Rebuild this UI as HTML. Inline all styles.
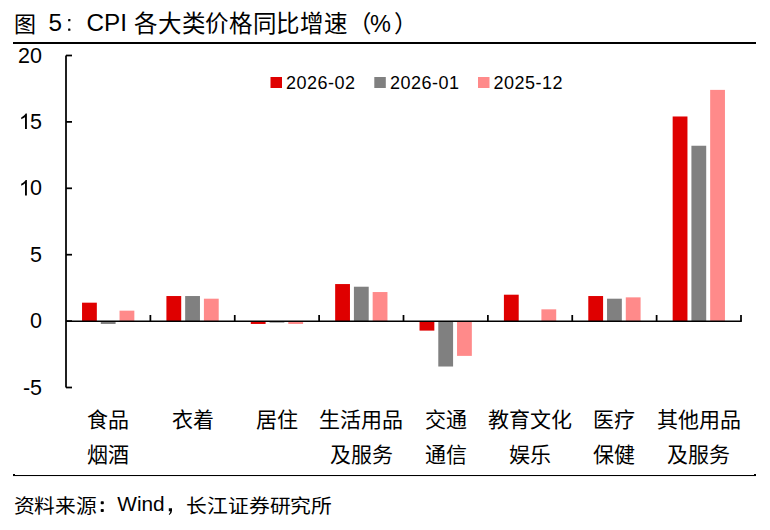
<!DOCTYPE html>
<html lang="zh-CN"><head><meta charset="utf-8"><style>
html,body{margin:0;padding:0;background:#fff;width:770px;height:530px;overflow:hidden;}
body{position:relative;font-family:"Liberation Sans",sans-serif;color:#000;}
svg{position:absolute;left:0;top:0;}
svg text{font-family:"Liberation Sans",sans-serif;}
</style></head><body>
<svg width="770" height="530" viewBox="0 0 770 530">
<g font-size="23.5">
<g>
<text x="14.2" y="32.3" font-size="22">图</text>
<text x="134.30 157.96 181.62 205.28 228.94 252.60 276.26 299.92 323.58" y="32.3">各大类价格同比增速</text><text x="347.6" y="31.9">（</text><text x="394" y="31.9">）</text>
</g>
<text x="370" y="31.5">%</text>
</g>
<g font-size="24.3">
<text x="48.5" y="31.4">5</text>
<text x="86.5" y="31.4">CPI</text>
</g>
<rect x="68.1" y="19" width="2.3" height="2.3" rx="0.4" fill="#000"/>
<rect x="68.1" y="28.5" width="2.3" height="2.3" rx="0.4" fill="#000"/>
<rect x="13" y="42" width="743" height="2" fill="#000"/>
<g>
<rect x="82.04" y="302.68" width="14.8" height="18.62" fill="#DF0000"/><rect x="100.79" y="321.30" width="14.8" height="2.66" fill="#808080"/><rect x="119.54" y="310.66" width="14.8" height="10.64" fill="#FF8A8A"/><rect x="166.41" y="296.03" width="14.8" height="25.27" fill="#DF0000"/><rect x="185.16" y="296.03" width="14.8" height="25.27" fill="#808080"/><rect x="203.91" y="298.69" width="14.8" height="22.61" fill="#FF8A8A"/><rect x="250.79" y="321.30" width="14.8" height="2.66" fill="#DF0000"/><rect x="269.54" y="321.30" width="14.8" height="1.33" fill="#808080"/><rect x="288.29" y="321.30" width="14.8" height="2.66" fill="#FF8A8A"/><rect x="335.16" y="284.06" width="14.8" height="37.24" fill="#DF0000"/><rect x="353.91" y="286.72" width="14.8" height="34.58" fill="#808080"/><rect x="372.66" y="292.04" width="14.8" height="29.26" fill="#FF8A8A"/><rect x="419.54" y="321.30" width="14.8" height="9.31" fill="#DF0000"/><rect x="438.29" y="321.30" width="14.8" height="45.22" fill="#808080"/><rect x="457.04" y="321.30" width="14.8" height="34.58" fill="#FF8A8A"/><rect x="503.91" y="294.70" width="14.8" height="26.60" fill="#DF0000"/><rect x="541.41" y="309.33" width="14.8" height="11.97" fill="#FF8A8A"/><rect x="588.29" y="296.03" width="14.8" height="25.27" fill="#DF0000"/><rect x="607.04" y="298.69" width="14.8" height="22.61" fill="#808080"/><rect x="625.79" y="297.36" width="14.8" height="23.94" fill="#FF8A8A"/><rect x="672.66" y="116.48" width="14.8" height="204.82" fill="#DF0000"/><rect x="691.41" y="145.74" width="14.8" height="175.56" fill="#808080"/><rect x="710.16" y="89.88" width="14.8" height="231.42" fill="#FF8A8A"/>
</g>
<g stroke="#000" stroke-width="1.75" fill="none">
<line x1="66" y1="55.5" x2="66" y2="387.5"/>
<line x1="66" y1="321.3" x2="741.8" y2="321.3" stroke-width="1.6"/>
<line x1="66" y1="55.50" x2="72" y2="55.50"/><line x1="66" y1="121.90" x2="72" y2="121.90"/><line x1="66" y1="188.30" x2="72" y2="188.30"/><line x1="66" y1="254.70" x2="72" y2="254.70"/><line x1="66" y1="321.10" x2="72" y2="321.10"/><line x1="66" y1="387.50" x2="72" y2="387.50"/>
<line x1="150.38" y1="315" x2="150.38" y2="321.3"/><line x1="234.75" y1="315" x2="234.75" y2="321.3"/><line x1="319.12" y1="315" x2="319.12" y2="321.3"/><line x1="403.50" y1="315" x2="403.50" y2="321.3"/><line x1="487.88" y1="315" x2="487.88" y2="321.3"/><line x1="572.25" y1="315" x2="572.25" y2="321.3"/><line x1="656.62" y1="315" x2="656.62" y2="321.3"/><line x1="741.00" y1="315" x2="741.00" y2="321.3"/>
</g>
<g font-size="21.5">
<text x="42" y="62.60" text-anchor="end">20</text><path transform="translate(18.89 129.00) scale(0.010498 -0.010498)" d="M763 0H583V1147Q518 1085 412 1023T221 930V1104Q372 1175 485 1276T645 1472H763V0Z" fill="#000"/><text x="42" y="129.00" text-anchor="end">5</text><path transform="translate(18.89 195.40) scale(0.010498 -0.010498)" d="M763 0H583V1147Q518 1085 412 1023T221 930V1104Q372 1175 485 1276T645 1472H763V0Z" fill="#000"/><text x="42" y="195.40" text-anchor="end">0</text><text x="42" y="261.80" text-anchor="end">5</text><text x="42" y="328.20" text-anchor="end">0</text><text x="42" y="394.60" text-anchor="end">-5</text>
</g>
<g font-size="21">
<text x="108.19" y="427.3" text-anchor="middle">食品</text><text x="108.19" y="462.3" text-anchor="middle">烟酒</text><text x="192.56" y="427.3" text-anchor="middle">衣着</text><text x="276.94" y="427.3" text-anchor="middle">居住</text><text x="361.31" y="427.3" text-anchor="middle">生活用品</text><text x="361.31" y="462.3" text-anchor="middle">及服务</text><text x="445.69" y="427.3" text-anchor="middle">交通</text><text x="445.69" y="462.3" text-anchor="middle">通信</text><text x="530.06" y="427.3" text-anchor="middle">教育文化</text><text x="530.06" y="462.3" text-anchor="middle">娱乐</text><text x="614.44" y="427.3" text-anchor="middle">医疗</text><text x="614.44" y="462.3" text-anchor="middle">保健</text><text x="698.81" y="427.3" text-anchor="middle">其他用品</text><text x="698.81" y="462.3" text-anchor="middle">及服务</text>
</g>
<g font-size="18" letter-spacing="0.5">
<rect x="270.5" y="77" width="11.5" height="11" fill="#DF0000"/>
<text x="286" y="88.9">2026-02</text>
<rect x="374.3" y="77" width="11.5" height="11" fill="#808080"/>
<text x="390" y="88.9">2026-01</text>
<rect x="478" y="77" width="11.5" height="11" fill="#FF8A8A"/>
<text x="493.5" y="88.9">2025-12</text>
</g>
<rect x="13" y="475" width="743" height="1.05" fill="#000"/><rect x="13" y="474" width="2" height="2" fill="#000"/><rect x="754" y="474" width="2" height="2" fill="#000"/>
<g font-size="20.8" transform="matrix(1 0 0 0.92 0 41.056)">
<text x="13.6" y="513.2">资料来源</text>
<text x="186.3" y="513.2">长江证券研究所</text>
</g>
<rect x="100.7" y="501.2" width="3.1" height="3" rx="0.8" fill="#000"/>
<rect x="100.7" y="509" width="3.1" height="3" rx="0.8" fill="#000"/>
<text x="117.3" y="511.4" font-size="20.8">Wind</text>
<path d="M168.8 508.2 h3.2 v2.6 q0 2.6 -2.6 4.2 l-0.7 -0.8 q1.5 -1.2 1.6 -3 h-1.5 z" fill="#000"/>
</svg>
</body></html>
